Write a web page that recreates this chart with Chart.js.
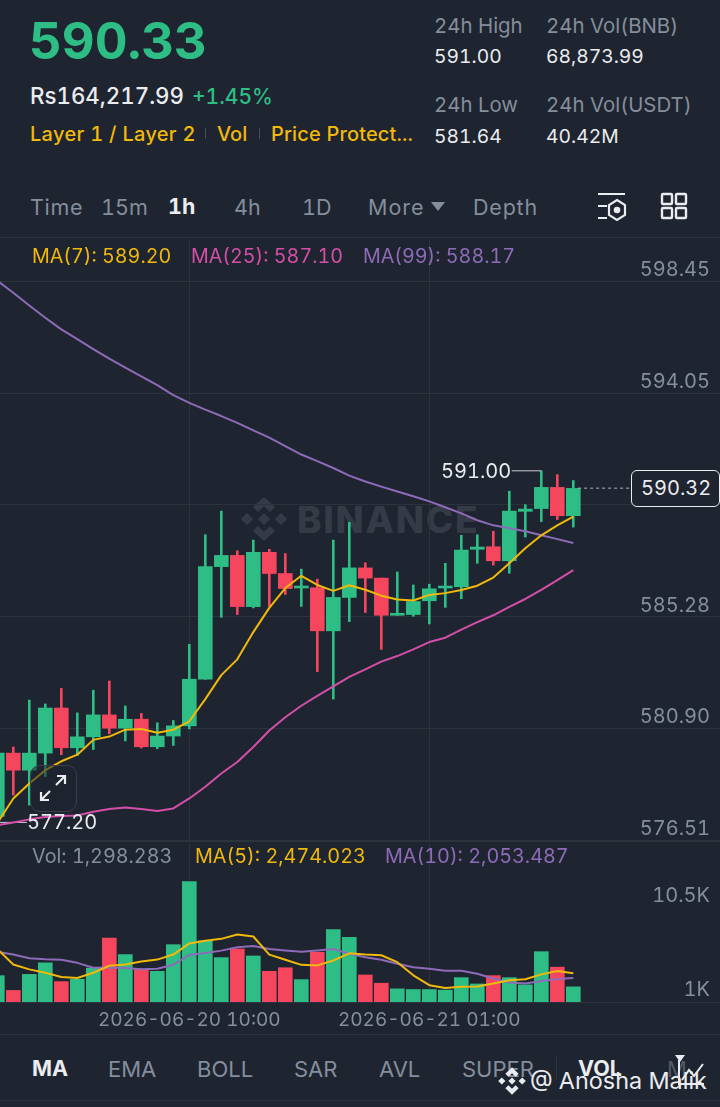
<!DOCTYPE html>
<html><head><meta charset="utf-8">
<script src="https://cdn.jsdelivr.net/npm/chart.js@4"></script>
<style>
html,body{margin:0;padding:0;background:#1e2430;width:720px;height:1107px;overflow:hidden;font-family:Inter,sans-serif;font-variant-numeric:tabular-nums}
.t{position:absolute;white-space:nowrap;line-height:1;transform:translateY(-50%)}
.g{color:#848e9c}.w{color:#eaecef}.y{color:#f0b90b}
.hr{position:absolute;left:0;width:720px;height:1px;background:#2d333d}
canvas{position:absolute;left:0}
</style></head><body>
<div class="t" style="left:29px;top:41px;font-size:50.8px;font-weight:700;color:#2ebd85">590.33</div>
<div class="t w" style="left:30px;top:96px;font-size:22.3px;font-weight:500">Rs164,217.99</div>
<div class="t" style="left:192px;top:96px;font-size:21px;font-weight:500;color:#2ebd85">+1.45%</div>
<div class="t y" style="left:30px;top:134px;font-size:20px;font-weight:500;letter-spacing:.3px">Layer 1 / Layer 2</div>
<div class="t y" style="left:217px;top:134px;font-size:20px;font-weight:500">Vol</div>
<div class="t y" style="left:271px;top:134px;font-size:20px;font-weight:500;letter-spacing:.15px">Price Protect...</div>
<div style="position:absolute;left:205px;top:128px;width:1px;height:11px;background:#474d57"></div>
<div style="position:absolute;left:259px;top:128px;width:1px;height:11px;background:#474d57"></div>
<div class="t g" style="left:434px;top:26px;font-size:20.4px">24h High</div>
<div class="t g" style="left:546px;top:26px;font-size:20.4px">24h Vol(BNB)</div>
<div class="t w" style="left:434px;top:57px;font-size:19.3px">591.00</div>
<div class="t w" style="left:546px;top:57px;font-size:19.3px">68,873.99</div>
<div class="t g" style="left:434px;top:105px;font-size:20.4px">24h Low</div>
<div class="t g" style="left:546px;top:105px;font-size:20.4px">24h Vol(USDT)</div>
<div class="t w" style="left:434px;top:137px;font-size:19.3px">581.64</div>
<div class="t w" style="left:546px;top:137px;font-size:19.3px">40.42M</div>

<div class="t g" style="left:30px;top:208px;font-size:21.5px;letter-spacing:.7px">Time</div>
<div class="t g" style="left:101px;top:208px;font-size:21.5px">15m</div>
<div class="t w" style="left:168px;top:207px;font-size:21.5px;font-weight:700">1h</div>
<div class="t g" style="left:234px;top:208px;font-size:21.5px">4h</div>
<div class="t g" style="left:302px;top:208px;font-size:21.5px">1D</div>
<div class="t g" style="left:368px;top:208px;font-size:21.5px;letter-spacing:1px">More</div>
<div style="position:absolute;left:431px;top:202px;width:0;height:0;border-left:7px solid transparent;border-right:7px solid transparent;border-top:9px solid #848e9c"></div>
<div class="t g" style="left:473px;top:208px;font-size:21.5px;letter-spacing:.8px">Depth</div>
<svg style="position:absolute;left:596px;top:190px" width="34" height="34" fill="none" stroke="#eaecef" stroke-width="2.2"><path d="M2 4H29M2 16H11M2 28H11"/><path d="M21 10L29 15V25L21 30L13 25V15Z"/><circle cx="21" cy="20" r="2.2" fill="#eaecef"/></svg>
<svg style="position:absolute;left:660px;top:192px" width="30" height="30" fill="none" stroke="#eaecef" stroke-width="2.4"><rect x="2" y="2" width="10" height="10" rx="1"/><rect x="16" y="2" width="10" height="10" rx="1"/><rect x="2" y="16" width="10" height="10" rx="1"/><rect x="16" y="16" width="10" height="10" rx="1"/></svg>

<div class="hr" style="top:237px"></div>
<div class="hr" style="top:841px"></div>
<div class="hr" style="top:1002px"></div>

<!-- watermark under the chart -->
<svg style="position:absolute;left:239px;top:496px" width="50" height="46" viewBox="0 0 50 46" fill="#353b46"><path d="M25 1L36 11L31 16L25 10L19 16L14 11Z"/><path d="M25 45L36 35L31 30L25 36L19 30L14 35Z"/><path d="M25 17L31 23L25 29L19 23Z"/><path d="M8 17L14 23L8 29L2 23Z"/><path d="M42 17L48 23L42 29L36 23Z"/></svg>
<div class="t" style="left:297px;top:519px;font-size:37px;font-weight:800;color:#353b46;letter-spacing:1.7px">BINANCE</div>

<canvas id="priceChart" width="720" height="604" style="top:238px;width:720px;height:604px"></canvas>
<canvas id="volChart" width="720" height="192" style="top:842px;width:720px;height:192px"></canvas>

<div class="t y" style="left:32px;top:257px;font-size:19.7px;color:#f0b90b">MA(7): 589.20</div>
<div class="t" style="left:191px;top:257px;font-size:19.7px;color:#d44fa8">MA(25): 587.10</div>
<div class="t" style="left:363px;top:257px;font-size:19.7px;color:#8e6bb8">MA(99): 588.17</div>

<div style="position:absolute;left:631px;top:470px;width:87px;height:35px;border:1px solid #eaecef;border-radius:6px;background:#1e2430"></div>
<div class="t w" style="left:641px;top:488px;font-size:20px">590.32</div>

<div style="position:absolute;left:30px;top:765px;width:45px;height:45px;border:1.5px solid #3a404b;border-radius:10px;background:rgba(30,36,48,.55)"></div>
<svg style="position:absolute;left:38px;top:773px" width="30" height="30" fill="none" stroke="#eaecef" stroke-width="2.2"><path d="M3 27L12 18M3 19V27H11M27 3L18 12M19 3H27V11"/></svg>

<div class="t g" style="left:32px;top:857px;font-size:19.8px">Vol: 1,298.283</div>
<div class="t y" style="left:195px;top:857px;font-size:19.8px">MA(5): 2,474.023</div>
<div class="t" style="left:385px;top:857px;font-size:19.8px;color:#8e6bb8">MA(10): 2,053.487</div>

<div class="hr" style="top:1034px"></div>
<div class="t w" style="left:32px;top:1069px;font-size:21.5px;font-weight:700">MA</div>
<div class="t g" style="left:108px;top:1069px;font-size:22px">EMA</div>
<div class="t g" style="left:197px;top:1069px;font-size:22px">BOLL</div>
<div class="t g" style="left:294px;top:1069px;font-size:22px">SAR</div>
<div class="t g" style="left:379px;top:1069px;font-size:22px">AVL</div>
<div class="t g" style="left:462px;top:1069px;font-size:22px">SUPER</div>
<div style="position:absolute;left:556px;top:1056px;width:1px;height:24px;background:#2d333d"></div>
<div class="t w" style="left:578px;top:1069px;font-size:21.5px;font-weight:700">VOL</div>
<div class="t g" style="left:667px;top:1069px;font-size:22px;opacity:.5">M</div>
<svg style="position:absolute;left:674px;top:1054px" width="32" height="32" fill="none" stroke="#eaecef" stroke-width="2"><path d="M5 6V30H30M8 26L15 16L20 22L29 10"/><path d="M1 1H11L6 8Z" fill="#eaecef" stroke="none"/></svg>
<div class="hr" style="top:1100px"></div>
<svg style="position:absolute;left:497px;top:1066px" width="30" height="30" viewBox="0 0 50 50" fill="#eaecef"><path d="M25 2L36 13L31 18L25 12L19 18L14 13Z"/><path d="M25 48L36 37L31 32L25 38L19 32L14 37Z"/><path d="M25 19L31 25L25 31L19 25Z"/><path d="M8 19L14 25L8 31L2 25Z"/><path d="M42 19L48 25L42 31L36 25Z"/></svg>
<div class="t" style="left:530px;top:1081px;font-size:23.4px;color:#eaecef">@ Anosha Malik</div>

<script>
const opens  = [577.44,579.92,579.25,579.92,581.69,580.13,580.56,581.42,580.90,581.25,580.17,580.59,580.99,582.82,587.24,587.68,585.67,587.80,586.97,586.40,586.41,584.72,586.03,587.19,586.79,585.33,585.36,585.90,586.40,586.45,587.92,588.02,587.47,589.41,589.52,590.35,589.24];
const closes = [579.92,579.25,579.92,581.69,580.13,580.56,581.42,580.90,581.25,580.17,580.59,580.99,582.82,587.24,587.68,585.67,587.80,586.97,586.38,586.46,584.72,586.03,587.19,586.79,585.33,585.39,585.87,586.37,586.47,587.89,588.01,587.47,589.42,589.50,590.35,589.24,590.31];
const highs  = [580.30,580.16,582.00,581.85,582.46,581.50,582.39,582.75,581.77,581.48,581.11,581.20,584.19,588.49,589.42,587.86,588.28,587.92,587.75,587.14,586.75,588.28,588.98,587.39,586.79,587.03,586.52,586.55,587.37,588.47,588.49,588.63,590.20,589.67,591.00,590.85,590.62];
const lows   = [577.20,578.27,577.88,579.00,579.86,579.83,580.06,580.68,580.40,580.12,580.09,580.22,580.87,582.82,585.25,585.36,585.62,585.68,586.15,585.68,583.12,582.04,585.08,585.44,583.99,585.33,585.29,584.99,585.64,585.98,587.37,587.30,586.98,588.40,589.01,589.09,588.79];
const ma7    = [577.17,578.14,578.73,579.25,579.60,579.86,580.44,580.57,580.84,580.87,580.72,580.84,581.17,582.04,582.98,583.60,584.67,585.62,586.40,586.88,586.52,586.29,586.51,586.33,586.10,585.95,585.91,586.13,586.20,586.32,586.49,586.81,587.37,587.96,588.47,588.86,589.20];
const ma25   = [577.09,577.20,577.32,577.41,577.45,577.47,577.62,577.73,577.79,577.73,577.65,577.75,578.14,578.60,579.12,579.57,580.16,580.81,581.33,581.78,582.17,582.54,582.91,583.21,583.51,583.73,583.99,584.28,584.45,584.77,585.06,585.33,585.66,585.97,586.33,586.71,587.10];
const ma99   = [598.46,597.99,597.49,597.01,596.55,596.17,595.78,595.40,595.05,594.71,594.36,593.97,593.67,593.40,593.15,592.88,592.59,592.30,591.97,591.64,591.38,591.11,590.81,590.58,590.38,590.19,590.00,589.80,589.57,589.33,589.06,588.86,588.75,588.63,588.47,588.32,588.17];
const volumes= [2260,990,2370,3360,1750,1950,2910,5480,4070,2820,2630,4920,10340,5250,3810,4550,3950,2630,2940,1920,4270,6210,5560,2320,1610,1130,1070,1070,1020,2090,1550,2260,2090,1470,4320,2990,1298.283];
const volMa5 = [4550,3220,2800,2510,2150,2060,2510,3110,3220,3470,3640,4070,5030,5250,5420,5790,5620,4070,3620,3190,3140,3560,4180,4070,4010,3420,2290,1440,1210,1300,1330,1580,1860,1950,2370,2660,2474.023];
const volMa10= [4320,4070,3760,3670,3620,3360,2940,2970,2910,2820,2850,3190,4040,4210,4410,4690,4800,4550,4430,4320,4430,4550,4130,3840,3620,3280,2990,2850,2690,2690,2430,2010,1670,1580,1810,1980,2053.487];
const priceTicks = [576.51,580.90,585.28,589.66,594.05,598.45];
const priceTickLabels = ['576.51','580.90','585.28','','594.05','598.45'];
const volTicks = [1000,9070];
const volTickLabels = ['1K','10.5K'];
const timeTickIndex = [12,27];
const timeTickLabels = ['2026-06-20 10:00','2026-06-21 01:00'];
const lastPrice = 590.32, dayHigh = 591.00, dayLow = 577.20;
const highIndex = 34, lowIndex = 0;

const UP='#2ebd85',DOWN='#f6465d',GRID='#2d333d',AXIS='#848e9c';
const MA_Y='#f0b90b',MA_P='#d44fa8',MA_V='#8e6bb8';
const isUp = i => closes[i]>=opens[i];
const colors = opens.map((_,i)=>isUp(i)?UP:DOWN);
const xMin = 0.16875, xMax = 45.16875;
const FONT = {family:'Inter',size:20};
const line=(label,vals,color,w=2)=>({type:'line',label,data:vals.map((v,i)=>({x:i,y:v})),borderColor:color,borderWidth:w,pointRadius:0,tension:0,order:1,borderJoinStyle:'round'});
const xScale=(showLabels,h)=>({type:'linear',min:xMin,max:xMax,offset:false,
  afterBuildTicks:s=>{s.ticks=timeTickIndex.map(v=>({value:v}))},
  afterFit:s=>{s.height=h},
  ticks:{display:showLabels,autoSkip:false,maxRotation:0,color:AXIS,font:{family:'Inter',size:19},padding:7,
    callback:v=>timeTickLabels[timeTickIndex.indexOf(v)]||''},
  grid:{color:GRID,lineWidth:1,drawTicks:false,offset:false},border:{display:false}});

const annotate={id:'annotate',afterDatasetsDraw(c){
  const x=c.scales.x,y=c.scales.y,g=c.ctx;
  g.save();g.fillStyle='#eaecef';g.font='20px Inter';g.textBaseline='middle';
  g.textAlign='right';g.fillText(dayHigh.toFixed(2),x.getPixelForValue(highIndex)-30,y.getPixelForValue(dayHigh)+1);
  g.textAlign='left';g.fillText(dayLow.toFixed(2),x.getPixelForValue(lowIndex)+29.7,y.getPixelForValue(dayLow)+1);
  g.restore();
}};

new Chart(document.getElementById('priceChart'),{
  type:'bar',
  data:{datasets:[
    line('MA(7)',ma7,MA_Y),line('MA(25)',ma25,MA_P),line('MA(99)',ma99,MA_V),
    {type:'line',label:'last',data:[{x:36.3,y:lastPrice},{x:39.6,y:lastPrice}],borderColor:'#aeb4bc',borderWidth:1,borderDash:[3,3],pointRadius:0,order:2},
    {type:'line',label:'high leader',data:[{x:32.15,y:dayHigh},{x:highIndex,y:dayHigh}],borderColor:'#c9ced5',borderWidth:1,pointRadius:0,order:2},
    {type:'line',label:'low leader',data:[{x:lowIndex,y:dayLow},{x:1.85,y:dayLow}],borderColor:'#c9ced5',borderWidth:1,pointRadius:0,order:2},
    {label:'body',data:opens.map((o,i)=>({x:i,y:[o,closes[i]]})),backgroundColor:colors,barThickness:14,grouped:false,order:3,minBarLength:2},
    {label:'wick',data:highs.map((h,i)=>({x:i,y:[lows[i],h]})),backgroundColor:colors,barThickness:2,grouped:false,order:4}
  ]},
  options:{responsive:false,animation:false,devicePixelRatio:1,
    layout:{padding:0,autoPadding:false},
    plugins:{legend:{display:false},tooltip:{enabled:false}},
    scales:{
      x:xScale(false,0),
      y:{position:'right',min:576.51,max:600.06,
        afterBuildTicks:s=>{s.ticks=priceTicks.map(v=>({value:v}))},
        afterFit:s=>{s.width=0},
        ticks:{mirror:true,padding:-10,labelOffset:-11,color:AXIS,font:FONT,z:5,autoSkip:false,
          callback:v=>priceTickLabels[priceTicks.indexOf(v)]},
        grid:{color:GRID,drawTicks:false},border:{display:false}}
    }},
  plugins:[annotate]
});

new Chart(document.getElementById('volChart'),{
  type:'bar',
  data:{datasets:[
    line('MA(5)',volMa5,MA_Y),line('MA(10)',volMa10,MA_V),
    {label:'Vol',data:volumes.map((v,i)=>({x:i,y:v})),backgroundColor:colors,barThickness:14,grouped:false,order:3}
  ]},
  options:{responsive:false,animation:false,devicePixelRatio:1,
    layout:{padding:0,autoPadding:false},
    plugins:{legend:{display:false},tooltip:{enabled:false}},
    scales:{
      x:xScale(true,32),
      y:{position:'right',min:0,max:13560,
        afterBuildTicks:s=>{s.ticks=volTicks.map(v=>({value:v}))},
        afterFit:s=>{s.width=0},
        ticks:{mirror:true,padding:-10,color:AXIS,font:FONT,autoSkip:false,
          callback:v=>volTickLabels[volTicks.indexOf(v)]},
        grid:{display:false},border:{display:false}}
    }}
});
</script>
</body></html>
